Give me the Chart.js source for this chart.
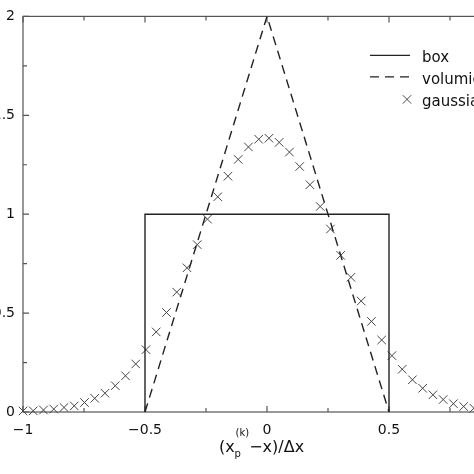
<!DOCTYPE html>
<html>
<head>
<meta charset="utf-8">
<title>Kernel shapes</title>
<script src="https://cdn.jsdelivr.net/npm/chart.js@4.4.1/dist/chart.umd.min.js"></script>
<style>
  html, body { margin: 0; padding: 0; overflow: hidden; background: #fff; width: 474px; height: 474px; }
  #wrap { position: absolute; left: -20px; top: 0; width: 560px; height: 474px; }
</style>
</head>
<body>
<div id="wrap"><canvas id="kernelChart"></canvas></div>
<script>
// series
const seriesNames = ['box', 'volumic', 'gaussian'];

const boxX = [-0.5, -0.5, 0.5, 0.5];
const boxY = [0, 1, 1, 0];

const volX = [-0.5, 0, 0.5];
const volY = [0, 2, 0];

const gaussX = [-1, -0.958, -0.916, -0.874, -0.832, -0.79, -0.748, -0.706, -0.664, -0.622,
                -0.58, -0.538, -0.496, -0.454, -0.412, -0.37, -0.328, -0.286, -0.244, -0.202,
                -0.16, -0.118, -0.076, -0.034, 0.008, 0.05, 0.092, 0.134, 0.176, 0.218,
                0.26, 0.302, 0.344, 0.386, 0.428, 0.47, 0.512, 0.554, 0.596, 0.638,
                0.68, 0.722, 0.764, 0.806, 0.848, 0.89, 0.932, 0.974];
const gaussY = [0.005, 0.006, 0.010, 0.015, 0.023, 0.031, 0.048, 0.069, 0.095, 0.133,
                0.183, 0.243, 0.315, 0.405, 0.503, 0.606, 0.729, 0.846, 0.975, 1.088,
                1.192, 1.277, 1.340, 1.379, 1.384, 1.363, 1.314, 1.241, 1.149, 1.039,
                0.925, 0.792, 0.681, 0.561, 0.458, 0.364, 0.285, 0.216, 0.163, 0.120,
                0.087, 0.063, 0.042, 0.028, 0.019, 0.013, 0.008, 0.005];

const xTickValues = [-1, -0.5, 0, 0.5, 1];
const xTickLabels = ['\u22121', '\u22120.5', '0', '0.5', '1'];
const yTickValues = [0, 0.5, 1, 1.5, 2];
const yTickLabels = ['0', '0.5', '1', '1.5', '2'];

// x-axis title pieces: main, subscript, superscript, rest
const titleParts = ['(x', 'p', '(k)', '\u2212x)/\u0394x'];

function lookupLabel(values, labels, v) {
    const i = values.findIndex(t => Math.abs(t - v) < 1e-9);
    return i >= 0 ? labels[i] : '';
}

const toPoints = (xs, ys) => xs.map((x, i) => ({ x: x, y: ys[i] }));

// box around the plot with inward ticks on every side
const framePlugin = {
    id: 'frame',
    beforeDatasetsDraw(chart) {
        const { ctx, chartArea: a, scales } = chart;
        ctx.save();
        ctx.strokeStyle = '#555';
        ctx.lineWidth = 1.2;
        ctx.strokeRect(a.left, a.top, a.right - a.left, a.bottom - a.top);
        ctx.beginPath();
        scales.x.ticks.forEach(t => {
            const px = scales.x.getPixelForValue(t.value);
            const len = t.label ? 6 : 4;
            ctx.moveTo(px, a.bottom); ctx.lineTo(px, a.bottom - len);
            ctx.moveTo(px, a.top); ctx.lineTo(px, a.top + len);
        });
        scales.y.ticks.forEach(t => {
            const py = scales.y.getPixelForValue(t.value);
            const len = t.label ? 6 : 4;
            ctx.moveTo(a.left, py); ctx.lineTo(a.left + len, py);
            ctx.moveTo(a.right, py); ctx.lineTo(a.right - len, py);
        });
        ctx.stroke();
        ctx.restore();
    }
};

// gnuplot-like key in the top right corner
const keyPlugin = {
    id: 'key',
    afterDatasetsDraw(chart) {
        const { ctx, chartArea: a } = chart;
        const ds = chart.data.datasets;
        const x1 = a.right - 141, x2 = a.right - 101, tx = a.right - 89;
        const rows = [a.top + 39, a.top + 60.5, a.top + 83];
        ctx.save();
        for (let i = 0; i < 3; i++) {
            const yy = rows[i];
            ctx.strokeStyle = ds[i].borderColor || ds[i].pointBorderColor;
            if (i < 2) {
                ctx.lineWidth = ds[i].borderWidth;
                ctx.setLineDash(ds[i].borderDash || []);
                ctx.beginPath();
                ctx.moveTo(x1, yy); ctx.lineTo(x2, yy);
                ctx.stroke();
                ctx.setLineDash([]);
            } else {
                const r = 4.2, cx = x2 - 3;
                ctx.strokeStyle = ds[i].pointBorderColor;
                ctx.lineWidth = 1;
                ctx.beginPath();
                ctx.moveTo(cx - r, yy - r); ctx.lineTo(cx + r, yy + r);
                ctx.moveTo(cx - r, yy + r); ctx.lineTo(cx + r, yy - r);
                ctx.stroke();
            }
            ctx.fillStyle = '#111';
            ctx.font = '15px "DejaVu Sans"';
            ctx.textBaseline = 'alphabetic';
            ctx.fillText(seriesNames[i], tx, yy + 7);
        }
        ctx.restore();
    }
};

// x-axis title with sub/superscript
const titlePlugin = {
    id: 'xTitle',
    afterDraw(chart) {
        const { ctx, chartArea: a } = chart;
        const big = '16px "DejaVu Sans"', small = '10px "DejaVu Sans"';
        ctx.save();
        ctx.fillStyle = '#111';
        ctx.textBaseline = 'alphabetic';
        ctx.font = big;
        const w1 = ctx.measureText(titleParts[0]).width;
        const w3 = ctx.measureText(titleParts[3]).width;
        ctx.font = small;
        const w2 = Math.max(ctx.measureText(titleParts[1]).width, ctx.measureText(titleParts[2]).width);
        const base = a.bottom + 40;
        let x0 = (a.left + a.right) / 2 - (w1 + w2 + w3) / 2 - 6;
        ctx.font = big;
        ctx.fillText(titleParts[0], x0, base);
        x0 += w1;
        ctx.font = small;
        ctx.fillText(titleParts[1], x0, base + 5);
        ctx.fillText(titleParts[2], x0 + 1, base - 16);
        x0 += w2 + 1;
        ctx.font = big;
        ctx.fillText(titleParts[3], x0, base);
        ctx.restore();
    }
};

const tickFont = { family: 'DejaVu Sans', size: 14 };

new Chart(document.getElementById('kernelChart').getContext('2d'), {
    type: 'scatter',
    data: {
        datasets: [
            {
                label: seriesNames[0],
                data: toPoints(boxX, boxY),
                showLine: true,
                borderColor: '#222',
                borderWidth: 1.4,
                pointRadius: 0,
                fill: false
            },
            {
                label: seriesNames[1],
                data: toPoints(volX, volY),
                showLine: true,
                borderColor: '#222',
                borderWidth: 1.4,
                borderDash: [9, 6],
                pointRadius: 0,
                fill: false
            },
            {
                label: seriesNames[2],
                data: toPoints(gaussX, gaussY),
                showLine: false,
                pointStyle: 'crossRot',
                pointRadius: 6,
                pointBorderWidth: 1,
                pointBorderColor: '#444',
                clip: false
            }
        ]
    },
    options: {
        animation: false,
        responsive: true,
        maintainAspectRatio: false,
        layout: { padding: { top: 7, right: 29, bottom: 0, left: 0 } },
        plugins: {
            legend: { display: false },
            tooltip: { enabled: false }
        },
        scales: {
            x: {
                type: 'linear',
                min: -1,
                max: 1,
                afterFit: s => { s.height = 62; },
                grid: { display: false, drawTicks: false },
                border: { display: false },
                ticks: {
                    stepSize: 0.25,
                    autoSkip: false,
                    maxRotation: 0,
                    padding: 10,
                    color: '#111',
                    font: tickFont,
                    callback: v => lookupLabel(xTickValues, xTickLabels, v)
                }
            },
            y: {
                type: 'linear',
                min: 0,
                max: 2,
                afterFit: s => { s.width = 43; },
                grid: { display: false, drawTicks: false },
                border: { display: false },
                ticks: {
                    stepSize: 0.25,
                    autoSkip: false,
                    padding: 8,
                    color: '#111',
                    font: tickFont,
                    callback: v => lookupLabel(yTickValues, yTickLabels, v)
                }
            }
        }
    },
    plugins: [framePlugin, keyPlugin, titlePlugin]
});
</script>
</body>
</html>
